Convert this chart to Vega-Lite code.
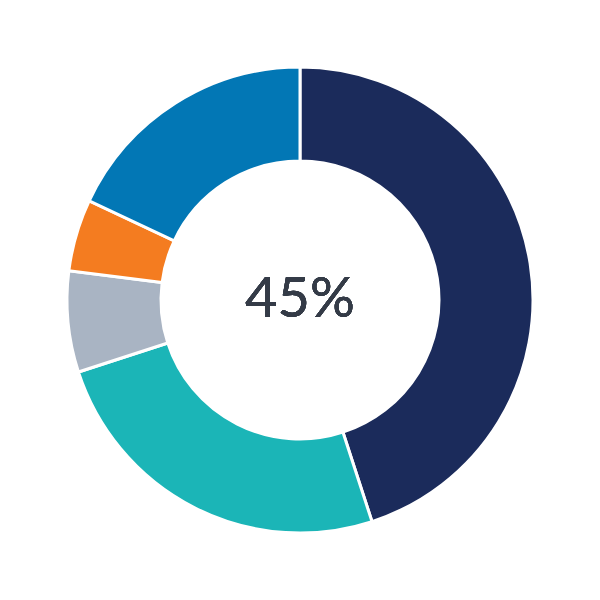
{
  "$schema": "https://vega.github.io/schema/vega-lite/v6.json",
  "width": 600,
  "height": 600,
  "padding": 0,
  "autosize": {"type": "fit", "contains": "padding"},
  "background": "white",
  "view": {"stroke": null},
  "data": {"values": [
    {"category": "A", "value": 45, "order": 1},
    {"category": "B", "value": 25, "order": 2},
    {"category": "C", "value": 7, "order": 3},
    {"category": "D", "value": 5, "order": 4},
    {"category": "E", "value": 18, "order": 5}
  ]},
  "layer": [
    {
      "mark": {"type": "arc", "outerRadius": 233, "innerRadius": 139, "stroke": "white", "strokeWidth": 3},
      "encoding": {
        "theta": {"field": "value", "type": "quantitative", "stack": true},
        "order": {"field": "order", "type": "quantitative"},
        "color": {
          "field": "category", "type": "nominal", "legend": null,
          "scale": {"domain": ["A", "B", "C", "D", "E"], "range": ["#1b2b5b", "#1bb5b7", "#a9b4c3", "#f47c20", "#0277b5"]}
        }
      }
    },
    {
      "mark": {"type": "text", "text": "45%", "font": "Lato", "fontSize": 56, "fontWeight": 400, "color": "#343b47", "align": "center", "baseline": "middle", "dy": 0},
      "encoding": {}
    }
  ]
}
